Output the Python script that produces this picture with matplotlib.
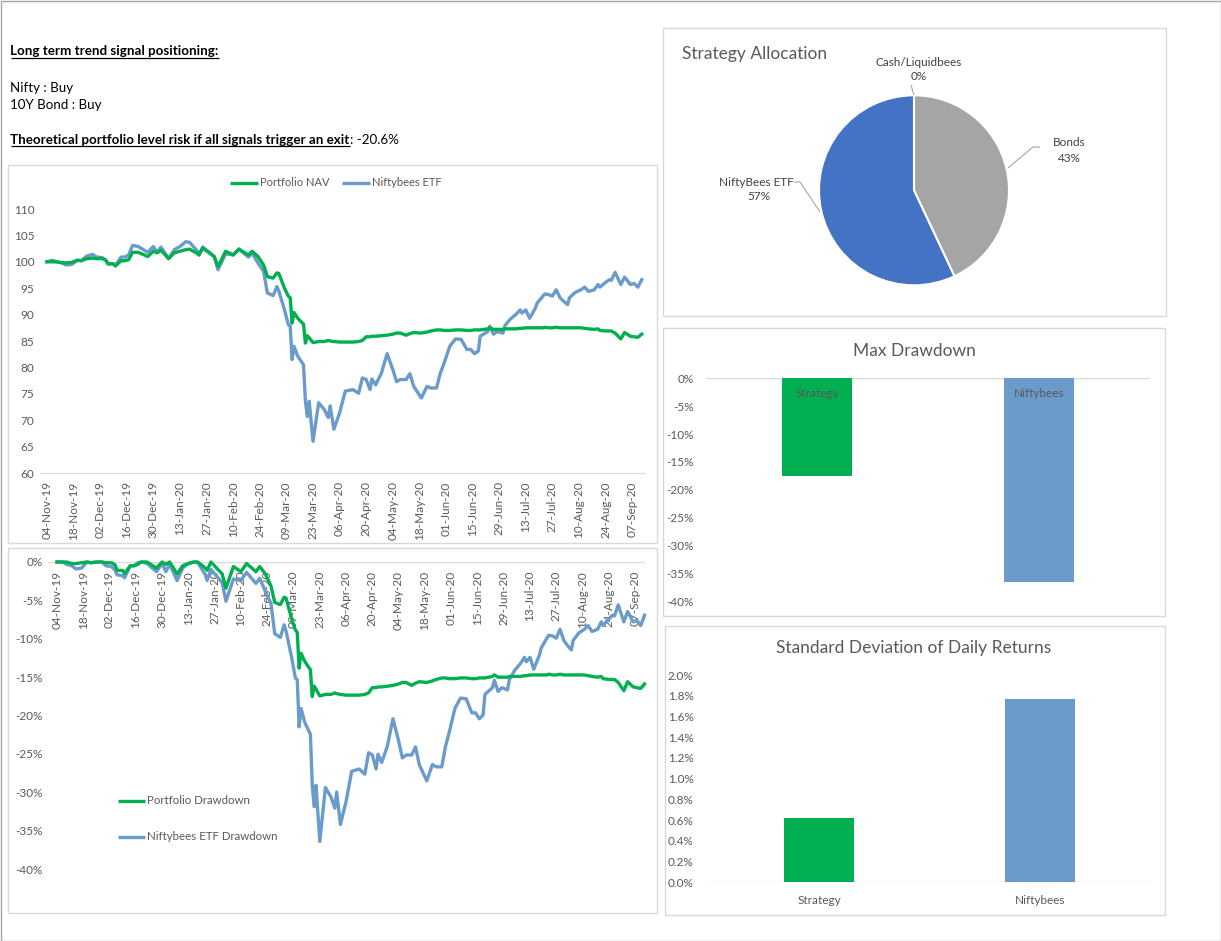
import matplotlib
matplotlib.use("Agg")
import matplotlib.pyplot as plt
import matplotlib.dates as mdates
from matplotlib.lines import Line2D
from matplotlib.patches import Rectangle
from matplotlib.ticker import FuncFormatter
import numpy as np
import pandas as pd

# ---------------- data ----------------
dates = [
    "2019-11-04", "2019-11-07", "2019-11-09", "2019-11-12", "2019-11-14", "2019-11-17",
    "2019-11-20", "2019-11-22", "2019-11-25", "2019-11-28", "2019-11-30", "2019-12-03",
    "2019-12-05", "2019-12-06", "2019-12-09", "2019-12-10", "2019-12-13", "2019-12-15",
    "2019-12-17", "2019-12-19", "2019-12-22", "2019-12-27", "2019-12-30", "2020-01-01",
    "2020-01-03", "2020-01-07", "2020-01-10", "2020-01-13", "2020-01-16", "2020-01-18",
    "2020-01-22", "2020-01-23", "2020-01-25", "2020-01-31", "2020-02-02", "2020-02-06",
    "2020-02-10", "2020-02-13", "2020-02-18", "2020-02-20", "2020-02-23", "2020-02-26",
    "2020-02-28", "2020-03-02", "2020-03-04", "2020-03-05", "2020-03-08", "2020-03-10",
    "2020-03-11", "2020-03-12", "2020-03-13", "2020-03-15", "2020-03-18", "2020-03-19",
    "2020-03-20", "2020-03-21", "2020-03-23", "2020-03-26", "2020-03-29", "2020-03-31",
    "2020-04-01", "2020-04-03", "2020-04-06", "2020-04-09", "2020-04-13", "2020-04-16",
    "2020-04-18", "2020-04-20", "2020-04-22", "2020-04-23", "2020-04-25", "2020-04-28",
    "2020-05-01", "2020-05-04", "2020-05-06", "2020-05-08", "2020-05-11", "2020-05-13",
    "2020-05-15", "2020-05-19", "2020-05-22", "2020-05-24", "2020-05-27", "2020-05-29",
    "2020-05-31", "2020-06-03", "2020-06-06", "2020-06-09", "2020-06-12", "2020-06-14",
    "2020-06-16", "2020-06-18", "2020-06-19", "2020-06-23", "2020-06-24", "2020-06-26",
    "2020-06-28", "2020-07-01", "2020-07-02", "2020-07-05", "2020-07-08", "2020-07-10",
    "2020-07-11", "2020-07-13", "2020-07-15", "2020-07-18", "2020-07-19", "2020-07-22",
    "2020-07-23", "2020-07-25", "2020-07-27", "2020-07-29", "2020-07-31", "2020-08-02",
    "2020-08-04", "2020-08-05", "2020-08-08", "2020-08-11", "2020-08-13", "2020-08-15",
    "2020-08-18", "2020-08-20", "2020-08-21", "2020-08-24", "2020-08-26", "2020-08-27",
    "2020-08-29", "2020-09-01", "2020-09-03", "2020-09-06", "2020-09-08", "2020-09-10",
    "2020-09-12",
]
niftybees_nav = [
    100.0, 100.3, 100.0, 99.8, 99.4, 99.5, 100.3, 100.2, 101.1, 101.4, 100.9, 100.8,
    100.3, 99.7, 99.6, 99.3, 100.9, 100.9, 101.3, 103.1, 102.9, 101.8, 102.9, 101.8,
    102.8, 100.6, 102.3, 102.9, 103.8, 103.7, 102.1, 101.3, 102.8, 101.0, 98.5, 101.5,
    101.3, 102.4, 100.9, 101.6, 99.8, 98.2, 94.1, 93.6, 95.3, 94.5, 90.9, 88.1,
    87.9, 81.5, 84.0, 82.1, 80.5, 73.6, 70.7, 73.6, 66.0, 73.3, 72.0, 70.5,
    72.7, 68.3, 71.4, 75.5, 75.8, 75.1, 78.0, 77.7, 75.8, 77.8, 76.7, 78.9,
    82.6, 79.6, 77.3, 77.7, 77.7, 78.8, 76.4, 74.2, 76.4, 76.1, 76.1, 78.9,
    80.8, 84.0, 85.4, 85.3, 83.4, 83.4, 82.6, 83.1, 85.9, 86.8, 87.8, 86.3,
    86.8, 86.5, 87.9, 89.2, 90.1, 90.9, 90.3, 90.9, 89.3, 91.2, 92.2, 93.5,
    93.9, 93.8, 93.5, 94.7, 93.2, 92.5, 91.9, 93.2, 94.2, 94.7, 95.2, 94.4,
    94.7, 95.7, 95.2, 96.1, 96.6, 96.5, 98.0, 95.7, 97.1, 95.7, 95.9, 95.2,
    96.6,
]
portfolio_nav = [
    100.0, 100.0, 100.0, 99.8, 99.8, 99.9, 100.3, 100.2, 100.6, 100.7, 100.6, 100.6,
    100.3, 99.6, 99.6, 99.2, 100.2, 100.2, 100.4, 101.8, 101.8, 101.0, 102.0, 101.7,
    102.2, 100.6, 101.7, 102.0, 102.3, 102.4, 101.6, 101.3, 102.6, 101.0, 99.1, 102.0,
    101.3, 102.4, 101.3, 102.0, 101.0, 99.4, 97.2, 96.9, 97.9, 97.8, 95.0, 93.5,
    93.2, 88.4, 90.4, 89.3, 88.2, 84.6, 86.0, 85.6, 84.7, 84.9, 84.9, 85.1,
    85.0, 84.9, 84.8, 84.8, 84.8, 84.9, 85.1, 85.8, 85.8, 85.9, 85.9, 86.0,
    86.1, 86.3, 86.5, 86.5, 86.1, 86.4, 86.6, 86.5, 86.7, 86.9, 87.1, 87.1,
    87.0, 87.0, 87.1, 87.1, 87.0, 87.0, 87.1, 87.1, 87.1, 87.3, 87.5, 87.2,
    87.2, 87.2, 87.3, 87.3, 87.3, 87.4, 87.4, 87.5, 87.5, 87.5, 87.5, 87.5,
    87.6, 87.5, 87.5, 87.6, 87.5, 87.5, 87.5, 87.5, 87.5, 87.5, 87.4, 87.3,
    87.2, 87.3, 87.0, 86.9, 86.9, 86.9, 86.5, 85.4, 86.6, 85.9, 85.8, 85.7,
    86.3,
]
nav_series_labels = ["Portfolio NAV", "Niftybees ETF"]
dd_series_labels = ["Portfolio Drawdown", "Niftybees ETF Drawdown"]

tick_start = "2019-11-04"
tick_end = "2020-09-07"
tick_step_days = 14
nav_yticks = [60, 65, 70, 75, 80, 85, 90, 95, 100, 105, 110]
dd_yticks = [0.0, -0.05, -0.10, -0.15, -0.20, -0.25, -0.30, -0.35, -0.40]

alloc_labels = ["Cash/Liquidbees", "Bonds", "NiftyBees ETF"]
alloc_values = [0, 43, 57]

bar_categories = ["Strategy", "Niftybees"]
max_drawdown = [-0.175, -0.365]
maxdd_yticks = [0.0, -0.05, -0.10, -0.15, -0.20, -0.25, -0.30, -0.35, -0.40]
std_daily = [0.0062, 0.0177]
std_yticks = [0.0, 0.002, 0.004, 0.006, 0.008, 0.010, 0.012, 0.014, 0.016, 0.018, 0.020]

signal_heading = "Long term trend signal positioning:"
signal_lines = ["Nifty : Buy", "10Y Bond : Buy"]
risk_heading = "Theoretical portfolio level risk if all signals trigger an exit"
risk_value = ": -20.6%"

# ---------------- style ----------------
W, H, DPI = 1221, 941, 100
GREEN = "#00B050"
BLUE = "#6A9BCB"
PIE_COLORS = ["#ED7D31", "#A5A5A5", "#4472C4"]
TXT = "#595959"
BORDER = "#D9D9D9"
FONT = "Lato"
plt.rcParams["font.family"] = [FONT, "DejaVu Sans"]

fig = plt.figure(figsize=(W / DPI, H / DPI), dpi=DPI)
fig.patch.set_facecolor("white")


def axes_px(x0, y0, x1, y1):
    return fig.add_axes([x0 / W, 1 - y1 / H, (x1 - x0) / W, (y1 - y0) / H])


def fx(px):
    return px / W


def fy(py):
    return 1 - py / H


def rect_px(x0, y0, x1, y1, color=BORDER, lw=1.0):
    fig.add_artist(Rectangle((fx(x0), fy(y1)), (x1 - x0) / W, (y1 - y0) / H,
                             transform=fig.transFigure, fill=False,
                             edgecolor=color, lw=lw))


def fig_line(xs, ys, color, lw):
    fig.add_artist(Line2D([fx(x) for x in xs], [fy(y) for y in ys],
                          transform=fig.transFigure, color=color, lw=lw,
                          solid_capstyle="butt"))


# panel borders
rect_px(0.5, 0.5, 1220.5, 940.5, color="#A6A6A6", lw=1.0)
rect_px(8, 165, 657, 543)
rect_px(8, 548, 657, 913)
rect_px(663, 28, 1166, 316)
rect_px(663, 328, 1165, 616)
rect_px(665, 626, 1165, 915)

# ---------------- top-left text ----------------
renderer = fig.canvas.get_renderer()
TL_SIZE = 9.6


def underline(t, y_px):
    bb = t.get_window_extent(renderer)
    fig_line([bb.x0, bb.x1], [y_px, y_px], "black", 0.9)
    return bb


t1 = fig.text(fx(10.5), fy(55), signal_heading, fontsize=TL_SIZE, fontweight="bold",
              va="baseline", ha="left", color="black")
underline(t1, 57.5)
fig.text(fx(10.5), fy(91.5), signal_lines[0], fontsize=TL_SIZE, va="baseline", color="black")
fig.text(fx(10.5), fy(109), signal_lines[1], fontsize=TL_SIZE, va="baseline", color="black")
t2 = fig.text(fx(10.5), fy(143.5), risk_heading, fontsize=TL_SIZE, fontweight="bold",
              va="baseline", ha="left", color="black")
bb2 = underline(t2, 146)
fig.text(bb2.x1 / W, fy(143.5), risk_value, fontsize=TL_SIZE, va="baseline", color="black")

# ---------------- common dates ----------------
dt = pd.to_datetime(dates)
xnum = mdates.date2num(dt)
d0 = mdates.date2num(pd.Timestamp(tick_start))
tick_dates = pd.date_range(tick_start, tick_end, freq=f"{tick_step_days}D")
tick_num = mdates.date2num(tick_dates)
tick_labels = [d.strftime("%d-%b-%y") for d in tick_dates]
nav_p = np.array(portfolio_nav)
nav_n = np.array(niftybees_nav)

# ---------------- NAV chart ----------------
ax1 = axes_px(40, 209, 645, 473)
scale1 = 1.9
ax1.set_xlim(d0 - (47 - 40) / scale1, d0 + (645 - 47) / scale1)
ax1.set_ylim(60, 110)
ax1.plot(xnum, nav_p, color=GREEN, lw=2.4, zorder=3, clip_on=False)
ax1.plot(xnum, nav_n, color=BLUE, lw=2.4, zorder=2, clip_on=False)
ax1.set_yticks(nav_yticks)
ax1.set_yticklabels([str(v) for v in nav_yticks])
ax1.set_xticks(tick_num)
ax1.set_xticklabels(tick_labels, rotation=90)
ax1.tick_params(axis="both", length=0, labelsize=8.5, colors=TXT)
ax1.tick_params(axis="y", pad=4)
ax1.tick_params(axis="x", pad=6)
for s in ["top", "right", "left"]:
    ax1.spines[s].set_visible(False)
ax1.spines["bottom"].set_color(BORDER)
ax1.set_facecolor("none")

# legend
fig_line([230, 258], [183, 183], GREEN, 2.4)
fig.text(fx(260), fy(183), nav_series_labels[0], fontsize=8, color=TXT, va="center")
fig_line([342, 370], [183, 183], BLUE, 2.4)
fig.text(fx(372), fy(183), nav_series_labels[1], fontsize=8, color=TXT, va="center")

# ---------------- Drawdown chart ----------------
dd_p = nav_p / np.maximum.accumulate(nav_p) - 1
dd_n = nav_n / np.maximum.accumulate(nav_n) - 1
ax2 = axes_px(48, 562, 645, 869)
scale2 = 1.877
ax2.set_xlim(d0 - (57 - 48) / scale2, d0 + (645 - 57) / scale2)
ax2.set_ylim(-0.40, 0)
ax2.plot(xnum, dd_p, color=GREEN, lw=2.4, zorder=3, clip_on=False)
ax2.plot(xnum, dd_n, color=BLUE, lw=2.4, zorder=2, clip_on=False)
ax2.axhline(0, color=BORDER, lw=1.0, zorder=1)
ax2.set_yticks(dd_yticks)
ax2.yaxis.set_major_formatter(FuncFormatter(lambda v, p: f"{v * 100:.0f}%"))
ax2.set_xticks([])
ax2.tick_params(axis="both", length=0, labelsize=8.5, colors=TXT)
ax2.tick_params(axis="y", pad=4)
for s in ax2.spines.values():
    s.set_visible(False)
ax2.set_facecolor("none")
for tn, lab in zip(tick_num, tick_labels):
    ax2.text(tn, -0.0115, lab, rotation=90, ha="center", va="top",
             fontsize=8.5, color=TXT, zorder=1)

fig_line([118, 145], [801, 801], GREEN, 2.4)
fig.text(fx(147), fy(801), dd_series_labels[0], fontsize=8.3, color=TXT, va="center")
fig_line([118, 145], [837, 837], BLUE, 2.4)
fig.text(fx(147), fy(837), dd_series_labels[1], fontsize=8.3, color=TXT, va="center")

# ---------------- Pie chart ----------------
cx, cy, r = 914, 190.3, 95
ax3 = axes_px(cx - r, cy - r, cx + r, cy + r)
ax3.pie(alloc_values, colors=PIE_COLORS, startangle=90, counterclock=False,
        radius=1, wedgeprops=dict(edgecolor="white", linewidth=1.5))
ax3.set_xlim(-1, 1)
ax3.set_ylim(-1, 1)
ax3.set_aspect("equal")
ax3.axis("off")

fig.text(fx(682), fy(54), "Strategy Allocation", fontsize=12.5, color=TXT,
         ha="left", va="center")
pie_label_pos = [((919, 62), (919, 77)), ((1069, 143), (1069, 158)), ((756, 183), (759, 197))]
for lab, val, (p1, p2) in zip(alloc_labels, alloc_values, pie_label_pos):
    fig.text(fx(p1[0]), fy(p1[1]), lab, fontsize=8.5, color="#404040", ha="center", va="center")
    fig.text(fx(p2[0]), fy(p2[1]), f"{val}%", fontsize=8.5, color="#404040", ha="center", va="center")
LEADER = "#A6A6A6"
fig_line([911, 914], [85, 95], LEADER, 0.8)
fig_line([1008, 1033, 1040], [168, 147, 147], LEADER, 0.8)
fig_line([794, 800, 820], [182, 182, 212], LEADER, 0.8)

# ---------------- Max drawdown bars ----------------
ax4 = axes_px(706, 378.3, 1150, 601.3)
ax4.bar([0, 1], max_drawdown, width=0.317, color=[GREEN, BLUE], zorder=2)
ax4.set_xlim(-0.5, 1.5)
ax4.set_ylim(-0.40, 0)
ax4.axhline(0, color=BORDER, lw=1.0, zorder=1)
ax4.set_yticks(maxdd_yticks)
ax4.yaxis.set_major_formatter(FuncFormatter(lambda v, p: f"{v * 100:.0f}%"))
ax4.set_xticks([])
ax4.tick_params(axis="y", length=0, labelsize=8.5, colors=TXT, pad=9)
for s in ax4.spines.values():
    s.set_visible(False)
ax4.set_facecolor("none")
for i, lab in enumerate(bar_categories):
    ax4.text(i, -0.027, lab, ha="center", va="center", fontsize=8.5, color=TXT, zorder=3)
fig.text(fx(914), fy(351), "Max Drawdown", fontsize=12.5, color=TXT, ha="center", va="center")

# ---------------- Std dev bars ----------------
ax5 = axes_px(709, 675, 1150, 882.3)
ax5.bar([0, 1], std_daily, width=0.317, color=[GREEN, BLUE], zorder=2)
ax5.set_xlim(-0.5, 1.5)
ax5.set_ylim(0, 0.020)
ax5.axhline(0, color=BORDER, lw=1.0, zorder=1)
ax5.set_yticks(std_yticks)
ax5.yaxis.set_major_formatter(FuncFormatter(lambda v, p: f"{v * 100:.1f}%"))
ax5.set_xticks([0, 1])
ax5.set_xticklabels(bar_categories)
ax5.tick_params(axis="both", length=0, labelsize=8.5, colors=TXT)
ax5.tick_params(axis="y", pad=11)
ax5.tick_params(axis="x", pad=9)
for s in ax5.spines.values():
    s.set_visible(False)
ax5.set_facecolor("none")
fig.text(fx(914), fy(648), "Standard Deviation of Daily Returns", fontsize=12.5,
         color=TXT, ha="center", va="center")

fig.savefig("out.png", dpi=DPI, facecolor="white")
